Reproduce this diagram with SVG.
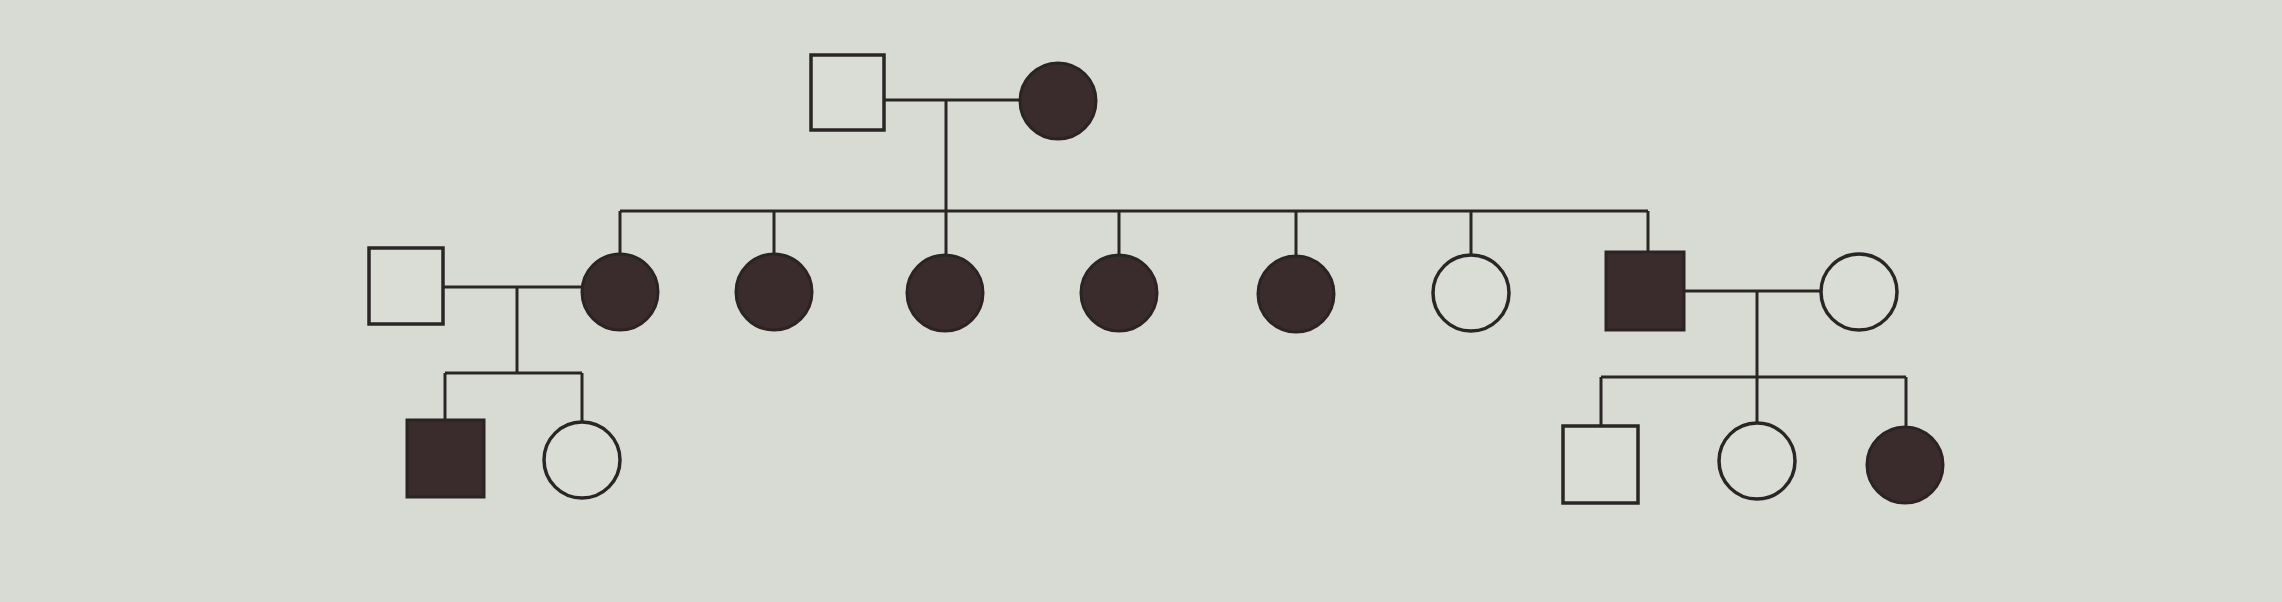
<svg xmlns="http://www.w3.org/2000/svg" width="2282" height="602" viewBox="0 0 2282 602">
<style>
.open{fill:#dadcd6;stroke:#2b2626;stroke-width:3.5}
.aff{fill:#3a2b2c;stroke:#2b2424;stroke-width:3}
.ln{fill:none;stroke:#2b2626;stroke-width:3}
</style>
<rect x="0" y="0" width="2282" height="602" fill="#d8dbd4"/>
<g id="connectors">
<path class="ln" d="M884 100H1020M946 100V211M620 211H1648M620 211V254M774 211V254M946 211V254M1119 211V255M1296 211V256M1471 211V255M1648 211V252"/>
<path class="ln" d="M443 287H582M517 287V373M445 373H582M445 373V420M582 373V422"/>
<path class="ln" d="M1684 291H1821M1757 291V377M1601 377H1906M1601 377V426M1757 377V423M1906 377V427"/>
</g>
<g id="I1"><rect class="open" x="811" y="55" width="73" height="75"/></g>
<g id="I2"><circle class="aff" cx="1058" cy="101" r="38"/></g>
<g id="II1"><rect class="open" x="369" y="248" width="74" height="76"/></g>
<g id="II2"><circle class="aff" cx="620" cy="292" r="38"/></g>
<g id="II3"><circle class="aff" cx="774" cy="292" r="38"/></g>
<g id="II4"><circle class="aff" cx="945" cy="293" r="38"/></g>
<g id="II5"><circle class="aff" cx="1119" cy="293" r="38"/></g>
<g id="II6"><circle class="aff" cx="1296" cy="294" r="38"/></g>
<g id="II7"><circle class="open" cx="1471" cy="293" r="38"/></g>
<g id="II8"><rect class="aff" x="1606" y="252" width="78" height="78"/></g>
<g id="II9"><circle class="open" cx="1859" cy="292" r="38"/></g>
<g id="III1"><rect class="aff" x="407" y="420" width="77" height="77"/></g>
<g id="III2"><circle class="open" cx="582" cy="460" r="38"/></g>
<g id="III3"><rect class="open" x="1563" y="426" width="75" height="77"/></g>
<g id="III4"><circle class="open" cx="1757" cy="461" r="38"/></g>
<g id="III5"><circle class="aff" cx="1905" cy="465" r="38"/></g>
</svg>
